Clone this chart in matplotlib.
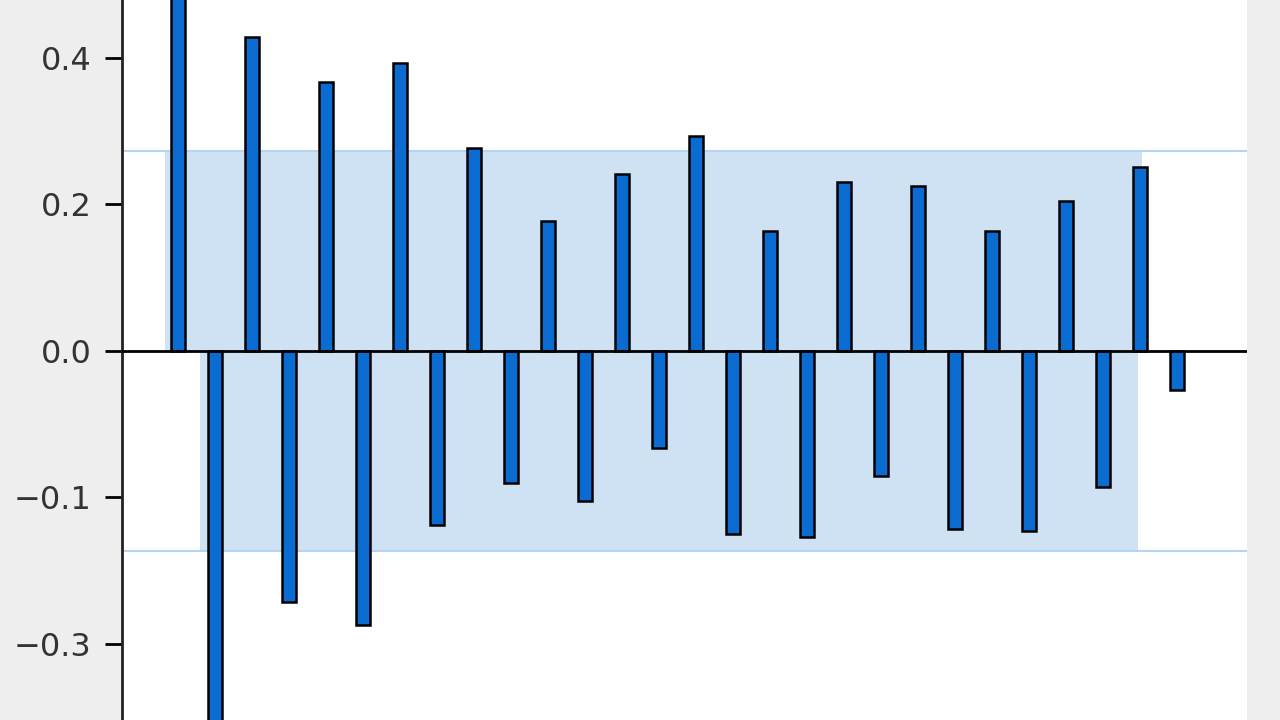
import matplotlib
matplotlib.use("Agg")
import matplotlib.pyplot as plt
import numpy as np

lags = list(range(1, 29))
acf = [0.55, -0.55, 0.429, -0.343, 0.367, -0.374, 0.393, -0.238, 0.277, -0.180,
       0.177, -0.205, 0.242, -0.132, 0.294, -0.250, 0.164, -0.254, 0.231, -0.171,
       0.225, -0.243, 0.164, -0.246, 0.205, -0.186, 0.251, -0.053]
conf = 0.273
ytick_vals = [0.4, 0.2, 0.0, -0.2, -0.4]
ytick_labels = ["0.4", "0.2", "0.0", "\u22120.1", "\u22120.3"]

fig = plt.figure(figsize=(12.8, 7.2), dpi=100, facecolor="#eeeeee")
ax = fig.add_axes([122/1280, 0.0, (1247-122)/1280, 1.0])
ax.set_facecolor("white")

# confidence band
ax.fill_between([0.65, 27.05], 0, conf, color="#cfe2f3", lw=0, zorder=1)
ax.fill_between([1.6, 26.95], -conf, 0, color="#cfe2f3", lw=0, zorder=1)
ax.axhline(conf, color="#b7d4ee", lw=1.5, zorder=1.5)
ax.axhline(-conf, color="#b7d4ee", lw=1.5, zorder=1.5)

ax.bar(lags, acf, width=0.38, color="#0a6cd0", edgecolor="black", linewidth=1.8, zorder=3)
ax.axhline(0, color="black", lw=2, zorder=4)

ax.set_xlim(-0.514, 29.89)
ax.set_ylim(-0.504, 0.479)
ax.set_yticks(ytick_vals)
ax.set_yticklabels(ytick_labels)
ax.tick_params(axis="y", labelsize=23, length=12, width=2, colors="black",
               labelcolor="#333333", pad=10)
ax.set_xticks([])
for s in ["top", "right", "bottom"]:
    ax.spines[s].set_visible(False)
ax.spines["left"].set_linewidth(2)
ax.spines["left"].set_color("#222222")

fig.savefig("out.png", dpi=100, facecolor=fig.get_facecolor())
